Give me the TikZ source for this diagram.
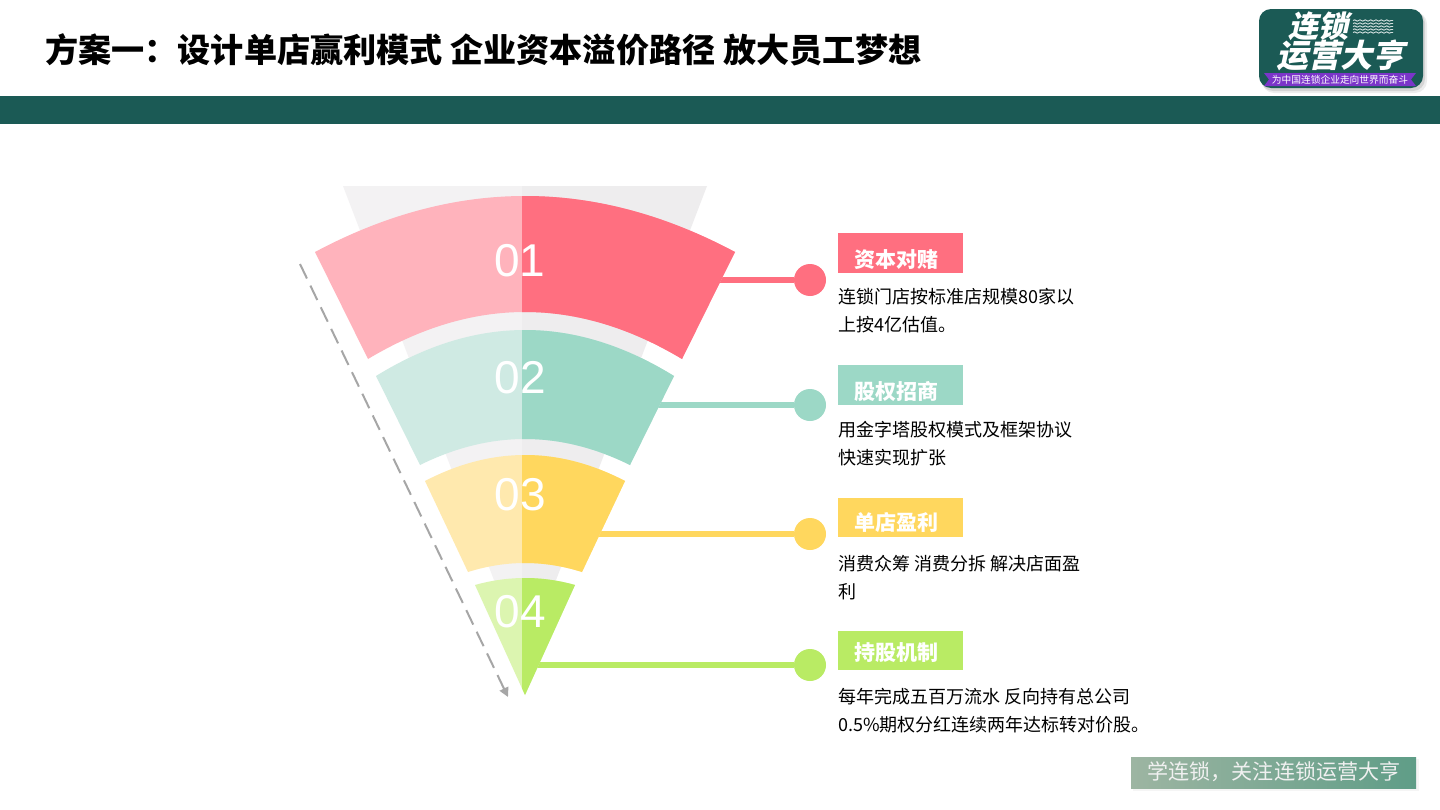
\documentclass[tikz,border=0pt]{standalone}
\usepackage{fontspec}
\setmainfont{Noto Sans CJK SC}
\newfontfamily\latinnum{Liberation Sans}
\usetikzlibrary{decorations.pathmorphing,arrows.meta}
\definecolor{bannerc}{HTML}{1B5A55}
\definecolor{redD}{HTML}{FF6F80}\definecolor{redL}{HTML}{FFB3BC}
\definecolor{tealD}{HTML}{9CD8C6}\definecolor{tealL}{HTML}{CFEAE3}
\definecolor{yelD}{HTML}{FFD75E}\definecolor{yelL}{HTML}{FFE9AE}
\definecolor{grnD}{HTML}{B9EB64}\definecolor{grnL}{HTML}{DCF5B0}
\definecolor{grayL}{HTML}{F3F2F3}\definecolor{grayD}{HTML}{EEEDEE}
\definecolor{ribbon}{HTML}{7B35C9}
\definecolor{footL}{HTML}{9DB5A2}\definecolor{footR}{HTML}{5F9D87}
\newcommand\bandshape[6]{(#1,#2) .. controls ({#1+(525-#1)*2/3},{(4*#3-#2)/3}) and ({1050-#1-(525-#1)*2/3},{(4*#3-#2)/3}) .. ({1050-#1},#2) -- ({1050-#4},#5) .. controls ({1050-#4-(525-#4)*2/3},{(4*#6-#5)/3}) and ({#4+(525-#4)*2/3},{(4*#6-#5)/3}) .. (#4,#5) -- cycle}
\newcommand\bandA{\bandshape{315}{252}{196}{368}{359}{312}}
\newcommand\bandB{\bandshape{376}{376}{330}{420}{465}{439}}
\newcommand\bandC{\bandshape{425}{481}{455}{468}{572}{563}}
\newcommand\bandD{\bandshape{475}{585}{578}{525}{695}{695}}
\tikzset{
  numlabel/.style={text=white,font=\latinnum\fontsize{34.5}{36}\selectfont,inner sep=0pt},
  headbox/.style={anchor=north west,minimum width=124.5*0.75pt,minimum height=39.5*0.75pt,inner sep=0pt},
  headtext/.style={anchor=west,text=white,inner sep=0pt,font=\bfseries\fontsize{15.75}{16}\selectfont},
  bodytext/.style={anchor=west,text=black,inner sep=0pt,align=left,font=\fontsize{13.5}{21}\selectfont},
  dotc/.style={circle,minimum size=24pt,inner sep=0pt},
  link/.style={line width=4.5pt},
  logotext/.style={text=white,inner sep=0pt,xslant=0.22,font=\bfseries\fontsize{22.5}{23}\selectfont}
}
\begin{document}
\begin{tikzpicture}[x=0.75pt,y=-0.75pt]
\useasboundingbox (0,0) rectangle (1440,810);
\fill[white] (0,0) rectangle (1440,810);
% banner
\fill[bannerc] (0,96) rectangle (1440,124);
\node[anchor=west,inner sep=0pt,font=\bfseries\fontsize{24.85}{26}\selectfont,text=black] (title) at (45,50) {方案一：设计单店赢利模式 企业资本溢价路径 放大员工梦想};
% logo
\fill[black,opacity=0.07,rounded corners=9pt] (1262,12) rectangle (1427,93);
\fill[black,opacity=0.10,rounded corners=9pt] (1261,11) rectangle (1425,91);
\fill[bannerc,rounded corners=9pt] (1259,9) rectangle (1423,88);
\node[logotext] (logoa) at (1321,26) {连锁};
\node[logotext,font=\bfseries\fontsize{24}{25}\selectfont] (logob) at (1343.5,55) {运营大亨};
\foreach \yy in {20.5,23.5,26.5,29.5,32.5}
  \draw[white!80!bannerc,line width=0.7pt,decorate,decoration={snake,amplitude=0.5pt,segment length=4pt}] (1353,\yy) -- (1393,\yy);
\fill[ribbon] (1264,73) -- (1416,73) -- (1411,79.5) -- (1416,86) -- (1264,86) -- (1269,79.5) -- cycle;
\node[text=white,inner sep=0pt,font=\fontsize{7.3}{8}\selectfont] (logoc) at (1340,79.5) {为中国连锁企业走向世界而奋斗};
% grey backing
\fill[grayL] (343,186) -- (522,186) -- (522,584) -- (495.5,584) -- cycle;
\fill[grayD] (522,186) -- (707,186) -- (554.5,584) -- (522,584) -- cycle;
% connectors
\coordinate (e1) at (712,280);
\coordinate (e2) at (652,405);
\coordinate (e3) at (592,534);
\coordinate (e4) at (530,665);
\node[dotc,fill=redD] (c1) at (810,280) {};
\node[dotc,fill=tealD] (c2) at (810,405) {};
\node[dotc,fill=yelD] (c3) at (810,534) {};
\node[dotc,fill=grnD] (c4) at (810,665) {};
\draw[link,redD] (e1) -- (c1);
\draw[link,tealD] (e2) -- (c2);
\draw[link,yelD] (e3) -- (c3);
\draw[link,grnD] (e4) -- (c4);
% bands
\fill[redL] \bandA;
\fill[tealL] \bandB;
\fill[yelL] \bandC;
\fill[grnL] \bandD;
\begin{scope}
\clip (522,150) rectangle (800,720);
\fill[redD] \bandA;
\fill[tealD] \bandB;
\fill[yelD] \bandC;
\fill[grnD] \bandD;
\end{scope}
\node[numlabel] (n1) at (520,261) {01};
\node[numlabel] (n2) at (520.5,378) {02};
\node[numlabel] (n3) at (520.5,495) {03};
\node[numlabel] (n4) at (520.5,612) {04};
% dashed arrow
\coordinate (da) at (300,264);
\coordinate (db) at (508,697);
\draw[color=black!35,line width=1.5pt,dash pattern=on 12pt off 6pt,-{Triangle[length=7pt,width=7pt]}] (da) -- (db);
% heads
\node[headbox,fill=redD] (h1) at (838,233) {};
\node[headbox,fill=tealD] (h2) at (838,365) {};
\node[headbox,fill=yelD] (h3) at (838,497.5) {};
\node[headbox,fill=grnD] (h4) at (838,630.5) {};
\node[headtext] (t1) at (854,260) {资本对赌};
\node[headtext] (t2) at (854,391) {股权招商};
\node[headtext] (t3) at (854,522) {单店盈利};
\node[headtext] (t4) at (854,653) {持股机制};
\node[bodytext] (b1) at (838,311) {连锁门店按标准店规模80家以\\上按4亿估值。};
\node[bodytext] (b2) at (838,444) {用金字塔股权模式及框架协议\\快速实现扩张};
\node[bodytext] (b3) at (838,578) {消费众筹 消费分拆 解决店面盈\\利};
\node[bodytext] (b4) at (838,711) {每年完成五百万流水 反向持有总公司\\0.5\%期权分红连续两年达标转对价股。};
% footer
\fill[black,opacity=0.04] (1133,759) rectangle (1419,791);
\shade[left color=footL,right color=footR] (1131,757) rectangle (1416,788);
\node[text=white!94!black,inner sep=0pt,font=\fontsize{15.8}{16}\selectfont] (foot) at (1274,772) {学连锁，关注连锁运营大亨};
\end{tikzpicture}
\end{document}
